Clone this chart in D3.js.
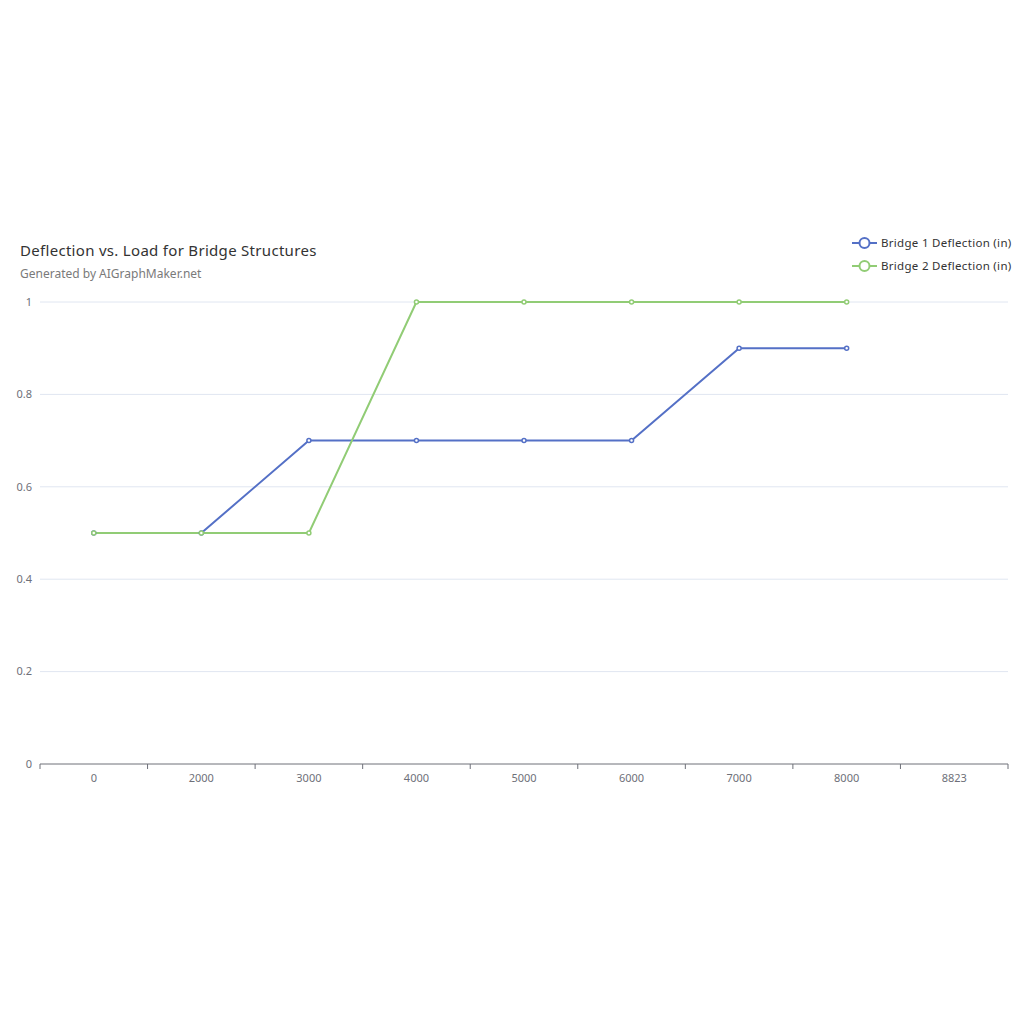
<!DOCTYPE html>
<html>
<head>
<meta charset="utf-8">
<script src="https://cdn.jsdelivr.net/npm/d3@7"></script>
<style>
  html, body { margin: 0; padding: 0; background: #fff; }
  #chart { width: 1024px; height: 1024px; }
  text { font-family: "Noto Sans", "DejaVu Sans", sans-serif; }
</style>
</head>
<body>
<div id="chart"></div>
<script>
// Chart data
const loads = ['0', '2000', '3000', '4000', '5000', '6000', '7000', '8000', '8823'];
const bridge1 = [0.5, 0.5, 0.7, 0.7, 0.7, 0.7, 0.9, 0.9];
const bridge2 = [0.5, 0.5, 0.5, 1, 1, 1, 1, 1];
const seriesNames = ['Bridge 1 Deflection (in)', 'Bridge 2 Deflection (in)'];
const seriesColors = ['#5470c6', '#91cc75'];
const yTicks = [0, 0.2, 0.4, 0.6, 0.8, 1];

const margin = { top: 302, right: 16, bottom: 260, left: 40 };
const width = 1024 - margin.left - margin.right;
const height = 1024 - margin.top - margin.bottom;

const root = d3.select('#chart')
    .append('svg')
    .attr('width', 1024)
    .attr('height', 1024);

// Title + subtitle
root.append('text')
    .attr('x', 20).attr('y', 256)
    .attr('font-size', 15)
    .attr('fill', '#333')
    .attr('letter-spacing', 0.3)
    .text('Deflection vs. Load for Bridge Structures');

root.append('text')
    .attr('x', 20).attr('y', 278)
    .attr('font-size', 12)
    .attr('fill', '#7a7a7a')
    .text('Generated by AIGraphMaker.net');

const svg = root.append('g')
    .attr('transform', 'translate(' + margin.left + ',' + margin.top + ')');

const xScale = d3.scaleBand().domain(loads).range([0, width]);
const yScale = d3.scaleLinear().domain([0, 1]).range([height, 0]);

// Grid lines
svg.append('g')
    .selectAll('line')
    .data(yTicks.filter(d => d > 0))
    .join('line')
    .attr('x1', 0).attr('x2', width)
    .attr('y1', d => yScale(d)).attr('y2', d => yScale(d))
    .attr('stroke', '#E0E6F1')
    .attr('stroke-width', 1);

// Y axis labels
svg.append('g')
    .selectAll('text')
    .data(yTicks)
    .join('text')
    .attr('x', -8)
    .attr('y', d => yScale(d))
    .attr('dy', '0.35em')
    .attr('text-anchor', 'end')
    .attr('font-size', 11)
    .attr('fill', '#6E7079')
    .text(d => d3.format('~g')(d));

// X axis
const xAxis = svg.append('g')
    .attr('transform', 'translate(0,' + height + ')');

xAxis.append('line')
    .attr('x1', 0).attr('x2', width)
    .attr('stroke', '#6E7079');

const boundaries = loads.map(d => xScale(d)).concat([width]);
xAxis.selectAll('line.tick')
    .data(boundaries)
    .join('line')
    .attr('class', 'tick')
    .attr('x1', d => d).attr('x2', d => d)
    .attr('y1', 0).attr('y2', 5)
    .attr('stroke', '#6E7079');

xAxis.selectAll('text')
    .data(loads)
    .join('text')
    .attr('x', d => xScale(d) + xScale.bandwidth() / 2)
    .attr('y', 18)
    .attr('text-anchor', 'middle')
    .attr('font-size', 11)
    .attr('fill', '#6E7079')
    .text(d => d);

// Lines
const line = d3.line()
    .x((d, i) => xScale(loads[i]) + xScale.bandwidth() / 2)
    .y(d => yScale(d));

[bridge1, bridge2].forEach((series, s) => {
    svg.append('path')
        .datum(series)
        .attr('fill', 'none')
        .attr('stroke', seriesColors[s])
        .attr('stroke-width', 2)
        .attr('stroke-linejoin', 'round')
        .attr('d', line);
});

[bridge1, bridge2].forEach((series, s) => {
    svg.append('g')
        .selectAll('circle')
        .data(series)
        .join('circle')
        .attr('cx', (d, i) => xScale(loads[i]) + xScale.bandwidth() / 2)
        .attr('cy', d => yScale(d))
        .attr('r', 2)
        .attr('fill', '#fff')
        .attr('stroke', seriesColors[s])
        .attr('stroke-width', 1.5);
});

// Legend
const legend = root.append('g')
    .attr('transform', 'translate(852,243)');

seriesNames.forEach((name, i) => {
    const g = legend.append('g').attr('transform', 'translate(0,' + (i * 23) + ')');
    g.append('line')
        .attr('x1', 0).attr('x2', 25)
        .attr('stroke', seriesColors[i])
        .attr('stroke-width', 2);
    g.append('circle')
        .attr('cx', 12.5).attr('cy', 0)
        .attr('r', 5)
        .attr('fill', '#fff')
        .attr('stroke', seriesColors[i])
        .attr('stroke-width', 2);
    g.append('text')
        .attr('x', 29).attr('y', 0)
        .attr('dy', '0.35em')
        .attr('font-size', 11.5)
        .attr('letter-spacing', 0.3)
        .attr('fill', '#333')
        .text(name);
});
</script>
</body>
</html>
